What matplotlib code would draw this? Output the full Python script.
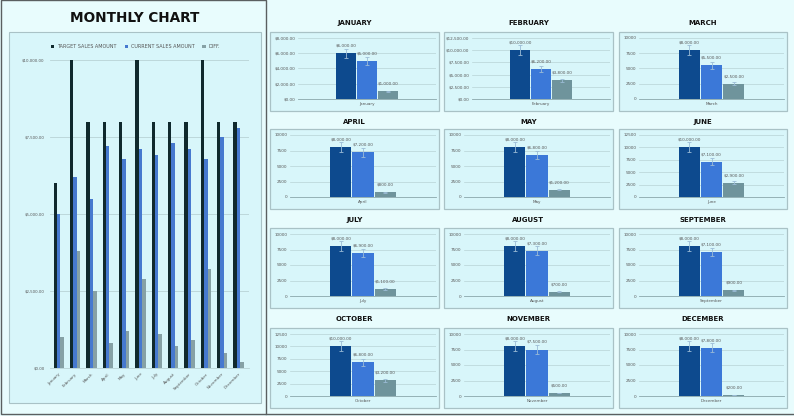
import numpy as np
import matplotlib.pyplot as plt
from matplotlib.patches import Rectangle
from matplotlib.lines import Line2D
from matplotlib.ticker import FuncFormatter, MultipleLocator

# ---------------------------------------------------------------- data
months = ["January", "February", "March", "April", "May", "June",
          "July", "August", "September", "October", "November", "December"]
target = [6000, 10000, 8000, 8000, 8000, 10000, 8000, 8000, 8000, 10000, 8000, 8000]
current = [5000, 6200, 5500, 7200, 6800, 7100, 6900, 7300, 7100, 6800, 7500, 7800]
diff = [1000, 3800, 2500, 800, 1200, 2900, 1100, 700, 900, 3200, 500, 200]

# y-axis top and tick step of each small chart, and whether ticks are in dollars
panel_ymax = [8000, 12500, 10000, 10000, 10000, 12500, 10000, 10000, 10000, 12500, 10000, 10000]
panel_ystep = [2000, 2500, 2500, 2500, 2500, 2500, 2500, 2500, 2500, 2500, 2500, 2500]
panel_dollar = [True, True] + [False] * 10

# ---------------------------------------------------------------- style
W, H = 794, 416
BG = "#e8fcfd"
PANEL = "#d8f6fa"
EDGE = "#a9c2c6"
GRID = "#b8d3d6"
C_TGT, C_CUR, C_DIF = "#0d4a8e", "#3b78d8", "#6f949c"
L_TGT, L_CUR, L_DIF = "#10292d", "#4679cf", "#86a1a5"
ERR = "#9cbcd6"


def px(x0, y0, x1, y1):
    # pixel box (top-left origin) -> figure fraction rect
    return [x0 / W, 1 - y1 / H, (x1 - x0) / W, (y1 - y0) / H]


def money(v, pos=None):
    return "${:,.2f}".format(v)


def box(x0, y0, x1, y1, **kw):
    fig.add_artist(Rectangle((x0 / W, 1 - y1 / H), (x1 - x0) / W, (y1 - y0) / H,
                             transform=fig.transFigure, zorder=-5, **kw))


fig = plt.figure(figsize=(W / 100, H / 100), dpi=100)
fig.patch.set_facecolor(BG)

# frame lines
box(1, 0, 266, 414, fill=False, edgecolor="#5a5f60", lw=1.0)
fig.add_artist(Line2D([266 / W, 1], [1 - 414 / H] * 2, transform=fig.transFigure,
                      color="#5a5f60", lw=1.0, zorder=-5))

# ---------------------------------------------------------------- left chart
fig.text(135 / W, 1 - 18 / H, "MONTHLY CHART", ha="center", va="center",
         fontsize=9.8, fontweight="heavy", color="#111111")
box(9, 32, 261, 403, facecolor=PANEL, edgecolor=EDGE, lw=0.8)

ax = fig.add_axes(px(50, 60, 249, 368))
ax.set_facecolor("none")
x = np.arange(len(months))
bw = 0.21
ax.bar(x - bw, target, bw, color=L_TGT, label="TARGET SALES AMOUNT", zorder=3)
ax.bar(x, current, bw, color=L_CUR, label="CURRENT SALES AMOUNT", zorder=3)
ax.bar(x + bw, diff, bw, color=L_DIF, label="DIFF.", zorder=3)
ax.set_xlim(-0.53, 11.64)
ax.set_ylim(0, 10000)
ax.yaxis.set_major_locator(MultipleLocator(2500))
ax.yaxis.set_major_formatter(FuncFormatter(money))
ax.grid(axis="y", color=GRID, lw=0.6, zorder=0)
ax.set_xticks(x)
ax.set_xticklabels(months, rotation=45, ha="right", rotation_mode="anchor")
ax.tick_params(axis="y", length=0, labelsize=2.8, colors="#555555", pad=4)
ax.tick_params(axis="x", length=0, labelsize=3.0, colors="#555555", pad=3)
for s in ["top", "right", "left"]:
    ax.spines[s].set_visible(False)
ax.spines["bottom"].set_color(GRID)
ax.spines["bottom"].set_linewidth(0.6)
ax.legend(loc="lower center", bbox_to_anchor=(0.43, 1.02), ncol=3, frameon=False,
          fontsize=3.5, handlelength=0.7, handleheight=0.7, columnspacing=1.6,
          handletextpad=0.6, labelcolor="#555555")

# ---------------------------------------------------------------- small charts
cols = [(270, 439), (444, 613), (619, 787)]
rows = [(32, 111), (129, 209), (228, 308), (328, 408)]
title_y = [23, 122, 220, 319]

for i, m in enumerate(months):
    r, c = divmod(i, 3)
    bx0, bx1 = cols[c]
    by0, by1 = rows[r]
    box(bx0, by0, bx1, by1, facecolor=PANEL, edgecolor=EDGE, lw=0.9)
    fig.text((bx0 + bx1) / 2 / W, 1 - title_y[r] / H, m.upper(), ha="center",
             va="center", fontsize=5.0, fontweight="bold", color="#111111")

    left = bx0 + (28 if panel_dollar[i] else 20)
    a = fig.add_axes(px(left, by0 + 6, bx1 - 3, by1 - 12))
    a.set_facecolor("none")
    vals = [target[i], current[i], diff[i]]
    xs = [-1, 0, 1]
    a.bar(xs, vals, 0.96, color=[C_TGT, C_CUR, C_DIF], zorder=3)
    a.errorbar(xs, vals, yerr=[v * 0.1 for v in vals], fmt="none", ecolor=ERR,
               elinewidth=0.6, capsize=1.5, capthick=0.6, zorder=4)
    for xv, v in zip(xs, vals):
        a.annotate(money(v), (xv, v), xytext=(0, 4), textcoords="offset points",
                   ha="center", va="bottom", fontsize=3.0, color="#555555", zorder=5)
    a.set_xlim(-3.27, 3.27)
    a.set_ylim(0, panel_ymax[i])
    a.yaxis.set_major_locator(MultipleLocator(panel_ystep[i]))
    if panel_dollar[i]:
        a.yaxis.set_major_formatter(FuncFormatter(money))
    else:
        a.yaxis.set_major_formatter(FuncFormatter(lambda v, p: "{:d}".format(int(v))))
    a.grid(axis="y", color=GRID, lw=0.5, zorder=0)
    a.set_xticks([0])
    a.set_xticklabels([m])
    a.tick_params(axis="both", length=0, labelsize=3.0, colors="#555555", pad=2)
    for s in ["top", "right", "left"]:
        a.spines[s].set_visible(False)
    a.spines["bottom"].set_color("#8aa6ab")
    a.spines["bottom"].set_linewidth(0.6)

fig.savefig("out.png", dpi=100, facecolor=BG)
